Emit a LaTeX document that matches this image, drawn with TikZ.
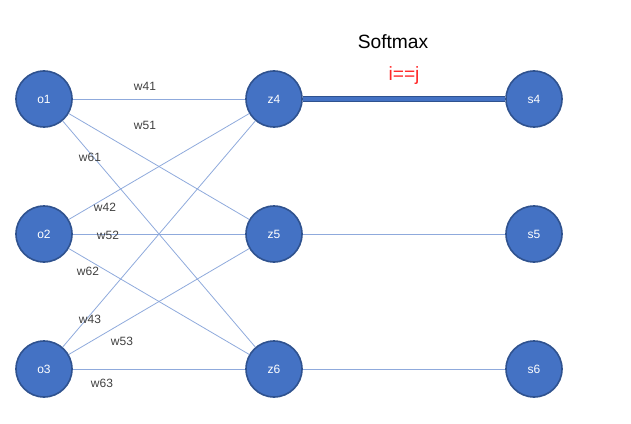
\documentclass[tikz,border=0pt]{standalone}
\usepackage{fontspec}
\setmainfont{Liberation Sans}
\begin{document}
\begin{tikzpicture}[x=0.75pt,y=-0.75pt,
  nd/.style={circle,fill={rgb,255:red,68;green,114;blue,196},draw={rgb,255:red,47;green,82;blue,143},line width=1.2pt,minimum size=42pt,inner sep=0pt,text=white,font=\small},
  ln/.style={draw={rgb,255:red,143;green,170;blue,220},line width=0.6pt},
  wl/.style={font=\small,text={rgb,255:red,64;green,64;blue,64}}]
\useasboundingbox (0,0) rectangle (631,424);
\node[nd] (o1) at (44,99) {o1};
\node[nd] (o2) at (44,234) {o2};
\node[nd] (o3) at (44,369) {o3};
\node[nd] (z4) at (274,99) {z4};
\node[nd] (z5) at (274,234) {z5};
\node[nd] (z6) at (274,369) {z6};
\node[nd] (s4) at (534,99) {s4};
\node[nd] (s5) at (534,234) {s5};
\node[nd] (s6) at (534,369) {s6};
\foreach \a in {o1,o2,o3}{\foreach \b in {z4,z5,z6}{\draw[ln] (\a) -- (\b);}}
\draw[ln] (z5) -- (s5);
\draw[ln] (z6) -- (s6);
\draw[draw={rgb,255:red,47;green,82;blue,143},line width=5pt] (z4) -- (s4);
\draw[draw={rgb,255:red,68;green,114;blue,196},line width=2.5pt] (z4) -- (s4);
\node[wl] (w41) at (145,86) {w41};
\node[wl] (w51) at (145,125) {w51};
\node[wl] (w61) at (90,157) {w61};
\node[wl] (w42) at (105,207) {w42};
\node[wl] (w52) at (108,235) {w52};
\node[wl] (w62) at (88,271) {w62};
\node[wl] (w43) at (90,319) {w43};
\node[wl] (w53) at (122,341) {w53};
\node[wl] (w63) at (102,383) {w63};
\node[font=\Large] (sm) at (393,42) {Softmax};
\node[font=\Large,text={rgb,255:red,255;green,40;blue,40}] (ij) at (404,76) {i==j};
\end{tikzpicture}
\end{document}
